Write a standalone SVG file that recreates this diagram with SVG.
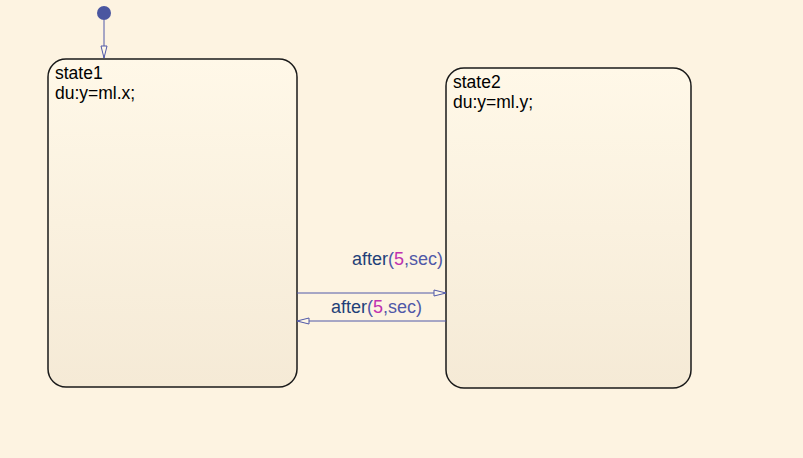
<svg xmlns="http://www.w3.org/2000/svg" width="803" height="458" viewBox="0 0 803 458">
<style>
.st{stroke:#1a1a1a;stroke-width:1.5;fill:url(#g)}
.t{font-family:"Liberation Sans",Arial,sans-serif;font-size:17.5px;fill:#000}
.l{font-family:"Liberation Sans",Arial,sans-serif;font-size:18px;fill:#1f3f78}
.c{stroke:#5058a8;stroke-width:1;fill:none}
</style>
<defs>
<linearGradient id="g" x1="0" y1="0" x2="0" y2="1"><stop offset="0" stop-color="#fff8e8"/><stop offset="1" stop-color="#f5ead6"/></linearGradient>
<marker id="a" markerWidth="14" markerHeight="8" refX="13" refY="4" orient="auto" markerUnits="userSpaceOnUse"><path d="M1,1 L13,4 L1,7 Z" fill="#fff8e8" stroke="#5058a8" stroke-width="1"/></marker>
</defs>
<rect width="803" height="458" fill="#fdf3e1"/>
<g id="state1"><rect class="st" x="48" y="59" width="249" height="328" rx="18"/>
<text class="t" x="55" y="79">state1</text><text class="t" x="55" y="99">du:y=ml.x;</text></g>
<g id="state2"><rect class="st" x="446" y="68" width="245" height="320" rx="18"/>
<text class="t" x="453" y="88">state2</text><text class="t" x="453" y="108">du:y=ml.y;</text></g>
<g id="init"><circle cx="104" cy="13" r="7" fill="#4a56a0"/></g>
<g id="connectors">
<path class="c" d="M104,20 V58" marker-end="url(#a)"/>
<path class="c" d="M297,293 H446" marker-end="url(#a)"/>
<path class="c" d="M446,321 H297" marker-end="url(#a)"/>
<text class="l" x="352" y="265">after<tspan fill="#5058a8">(</tspan><tspan fill="#c030b0">5</tspan><tspan fill="#5058a8">,sec)</tspan></text>
<text class="l" x="331" y="313">after<tspan fill="#5058a8">(</tspan><tspan fill="#c030b0">5</tspan><tspan fill="#5058a8">,sec)</tspan></text>
</g>
</svg>
